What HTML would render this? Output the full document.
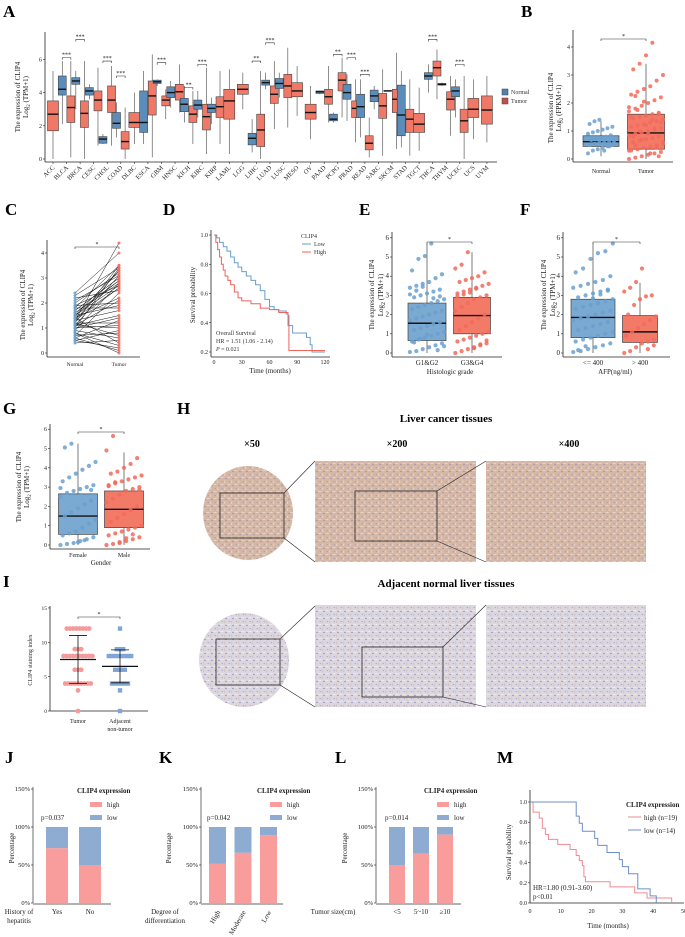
<!DOCTYPE html>
<html><head><meta charset="utf-8">
<style>
html,body{margin:0;padding:0;background:#fff;}
svg{display:block;font-family:"Liberation Serif",serif;}
.pl{font-weight:bold;font-size:17px;}
.tk{font-size:6px;fill:#333;}
.at{font-size:7px;fill:#222;}
</style></head>
<body>
<svg id="fig" width="685" height="937" viewBox="0 0 685 937" xmlns="http://www.w3.org/2000/svg">
<defs>
<pattern id="pc" width="7" height="7" patternUnits="userSpaceOnUse">
<rect width="7" height="7" fill="#d6b7a5"/>
<circle cx="2" cy="2.5" r="0.6" fill="#7d86b4"/><circle cx="5.2" cy="5.6" r="0.5" fill="#8a90bb"/>
<rect x="3.5" y="1" width="3" height="0.9" fill="#e8d8cc"/><rect x="0" y="4.5" width="1.2" height="2.5" fill="#e4d0c2"/>
</pattern>
<pattern id="pn" width="7" height="7" patternUnits="userSpaceOnUse">
<rect width="7" height="7" fill="#dcd6de"/>
<circle cx="2" cy="2.5" r="0.6" fill="#6d78b8"/><circle cx="5.2" cy="5.6" r="0.5" fill="#7c86bf"/>
<rect x="3.5" y="1" width="3" height="0.9" fill="#eeeaee"/><rect x="0" y="4.5" width="1.2" height="2.5" fill="#d4c4c4"/>
</pattern>
</defs>

<!-- panel labels -->
<text class="pl" x="3" y="17">A</text>
<text class="pl" x="521" y="17">B</text>
<text class="pl" x="5" y="215">C</text>
<text class="pl" x="163" y="215">D</text>
<text class="pl" x="359" y="215">E</text>
<text class="pl" x="520" y="215">F</text>
<text class="pl" x="3" y="414">G</text>
<text class="pl" x="177" y="414">H</text>
<text class="pl" x="3" y="587">I</text>
<text class="pl" x="5" y="763">J</text>
<text class="pl" x="159" y="763">K</text>
<text class="pl" x="335" y="763">L</text>
<text class="pl" x="497" y="763">M</text>

<!-- axis titles -->
<text class="at" transform="translate(20,97) rotate(-90)" text-anchor="middle">The expression  of CLIP4</text>
<text class="at" transform="translate(28,97) rotate(-90)" text-anchor="middle">Log<tspan font-size="5" dy="2">2</tspan><tspan dy="-2"> (TPM+1)</tspan></text>
<rect x="502" y="89" width="6" height="6" fill="#4f82ad" stroke="#444" stroke-width="0.5"/>
<text class="tk" x="511" y="94">Normal</text>
<rect x="502" y="98" width="6" height="6" fill="#c0504d" stroke="#444" stroke-width="0.5"/>
<text class="tk" x="511" y="103">Tumor</text>

<text class="at" transform="translate(553,108) rotate(-90)" text-anchor="middle">The expression  of CLIP4</text>
<text class="at" transform="translate(561,108) rotate(-90)" text-anchor="middle">Log<tspan font-size="5" dy="2">2</tspan><tspan dy="-2"> (FPKM+1)</tspan></text>

<text class="at" transform="translate(25,305) rotate(-90)" text-anchor="middle">The expression  of CLIP4</text>
<text class="at" transform="translate(33,305) rotate(-90)" text-anchor="middle">Log<tspan font-size="5" dy="2">2</tspan><tspan dy="-2"> (TPM+1)</tspan></text>

<text class="at" transform="translate(195,295) rotate(-90)" text-anchor="middle">Survival probability</text>
<text class="at" x="270" y="373" text-anchor="middle">Time (months)</text>
<text class="tk" x="301" y="238">CLIP4</text>
<line x1="302" y1="244" x2="311" y2="244" stroke="#6a9fcb" stroke-width="1"/>
<text class="tk" x="314" y="246">Low</text>
<line x1="302" y1="252" x2="311" y2="252" stroke="#f0625a" stroke-width="1"/>
<text class="tk" x="314" y="254">High</text>
<text class="tk" x="216" y="335">Overall Survival</text>
<text class="tk" x="216" y="343">HR = 1.51 (1.06 - 2.14)</text>
<text class="tk" x="216" y="351"><tspan font-style="italic">P</tspan> = 0.021</text>

<text class="at" font-size="8" transform="translate(374,295) rotate(-90)" text-anchor="middle">The expression  of CLIP4</text>
<text class="at" font-size="8" transform="translate(383,295) rotate(-90)" text-anchor="middle">Log<tspan font-size="6" dy="2">2</tspan><tspan dy="-2"> (TPM+1)</tspan></text>
<text class="at" font-size="8" x="450" y="374" text-anchor="middle">Histologic grade</text>

<text class="at" font-size="8" transform="translate(546,295) rotate(-90)" text-anchor="middle">The expression  of CLIP4</text>
<text class="at" font-size="8" transform="translate(555,295) rotate(-90)" text-anchor="middle">Log<tspan font-size="6" dy="2">2</tspan><tspan dy="-2"> (TPM+1)</tspan></text>
<text class="at" font-size="8" x="615" y="374" text-anchor="middle">AFP(ng/ml)</text>

<text class="at" transform="translate(21,487) rotate(-90)" text-anchor="middle">The expression  of CLIP4</text>
<text class="at" transform="translate(29,487) rotate(-90)" text-anchor="middle">Log<tspan font-size="5" dy="2">2</tspan><tspan dy="-2"> (TPM+1)</tspan></text>
<text class="at" x="101" y="565" text-anchor="middle">Gender</text>

<text class="tk" font-size="5" transform="translate(32,660) rotate(-90)" text-anchor="middle">CLIP4 staining index</text>

<!-- H histology -->
<text x="446" y="422" font-size="11" font-weight="bold" text-anchor="middle">Liver cancer tissues</text>
<text x="252" y="447" font-size="10" font-weight="bold" text-anchor="middle">×50</text>
<text x="397" y="447" font-size="10" font-weight="bold" text-anchor="middle">×200</text>
<text x="569" y="447" font-size="10" font-weight="bold" text-anchor="middle">×400</text>
<ellipse cx="248" cy="513" rx="45" ry="47" fill="url(#pc)"/>
<rect x="220" y="493" width="64" height="45" fill="none" stroke="#222" stroke-width="0.8"/>
<line x1="284" y1="493" x2="315" y2="461" stroke="#222" stroke-width="0.6"/>
<line x1="284" y1="538" x2="315" y2="562" stroke="#222" stroke-width="0.6"/>
<rect x="315" y="461" width="161" height="101" fill="url(#pc)"/>
<rect x="355" y="491" width="82" height="50" fill="none" stroke="#222" stroke-width="0.8"/>
<line x1="437" y1="491" x2="486" y2="461" stroke="#222" stroke-width="0.6"/>
<line x1="437" y1="541" x2="486" y2="562" stroke="#222" stroke-width="0.6"/>
<rect x="486" y="461" width="160" height="101" fill="url(#pc)"/>

<text x="446" y="587" font-size="11" font-weight="bold" text-anchor="middle">Adjacent normal liver tissues</text>
<ellipse cx="244" cy="660" rx="45" ry="47" fill="url(#pn)"/>
<rect x="216" y="639" width="64" height="46" fill="none" stroke="#222" stroke-width="0.8"/>
<line x1="280" y1="639" x2="315" y2="606" stroke="#222" stroke-width="0.6"/>
<line x1="280" y1="685" x2="315" y2="707" stroke="#222" stroke-width="0.6"/>
<rect x="315" y="605" width="161" height="102" fill="url(#pn)"/>
<rect x="362" y="647" width="81" height="50" fill="none" stroke="#222" stroke-width="0.8"/>
<line x1="443" y1="647" x2="486" y2="605" stroke="#222" stroke-width="0.6"/>
<line x1="443" y1="697" x2="486" y2="707" stroke="#222" stroke-width="0.6"/>
<rect x="486" y="605" width="160" height="102" fill="url(#pn)"/>

<!-- J K L text -->
<text class="at" transform="translate(14,848) rotate(-90)" text-anchor="middle">Percentage</text>
<text class="at" transform="translate(171,848) rotate(-90)" text-anchor="middle">Percentage</text>
<text class="at" transform="translate(347,848) rotate(-90)" text-anchor="middle">Percentage</text>
<text class="at" x="19" y="914" text-anchor="middle">History of</text>
<text class="at" x="19" y="923" text-anchor="middle">hepatitis</text>
<text class="at" x="165" y="914" text-anchor="middle">Degree of</text>
<text class="at" x="165" y="923" text-anchor="middle">differentiation</text>
<text class="at" x="333" y="914" text-anchor="middle">Tumor size(cm)</text>
<text class="at" x="41" y="820">p=0.037</text>
<text class="at" x="207" y="820">p=0.042</text>
<text class="at" x="385" y="820">p=0.014</text>

<text class="at" transform="translate(511,852) rotate(-90)" text-anchor="middle">Survival probability</text>
<text class="at" x="608" y="928" text-anchor="middle">Time (months)</text>
<text class="at" x="626" y="807" font-weight="bold">CLIP4 expression</text>
<line x1="628" y1="817" x2="641" y2="817" stroke="#f08a90"/>
<text class="at" x="644" y="820">high (n=19)</text>
<line x1="628" y1="830" x2="641" y2="830" stroke="#6d8fc8"/>
<text class="at" x="644" y="833">low (n=14)</text>
<text class="at" x="533" y="890">HR=1.80 (0.91-3.60)</text>
<text class="at" x="533" y="899">p&lt;0.01</text>

<g id="marks"></g>
</svg>
<script>
// ===== Panel A data =====
const aCats = ["ACC","BLCA","BRCA","CESC","CHOL","COAD","DLBC","ESCA","GBM","HNSC","KICH","KIRC","KIRP","LAML","LGG","LIHC","LUAD","LUSC","MESO","OV","PAAD","PCPG","PRAD","READ","SARC","SKCM","STAD","TGCT","THCA","THYM","UCEC","UCS","UVM"];
const aTMed = [2.7,3.1,2.75,3.55,3.55,1.05,2.2,3.8,3.55,4.05,2.7,2.55,3.15,3.5,4.2,1.75,3.9,4.4,4.1,2.8,3.75,4.75,3.05,0.95,3.2,3.6,2.4,2.1,5.5,3.6,2.3,3.0,2.95];
const aTQ1 = [1.7,2.2,1.9,2.9,2.8,0.6,1.9,2.65,3.2,3.55,2.2,1.75,2.5,2.4,3.9,0.75,3.35,3.7,3.75,2.4,3.3,4.1,2.5,0.55,2.45,2.8,1.6,1.6,5.0,2.95,1.6,2.5,2.1];
const aTQ3 = [3.5,3.8,3.5,4.1,4.4,1.65,2.8,4.7,3.8,4.5,3.2,3.3,3.75,4.2,4.5,2.7,4.4,5.1,4.6,3.3,4.2,5.2,3.5,1.4,3.95,4.2,3.0,2.75,5.9,4.05,3.0,3.65,3.8];
const aTLo = [0,0.1,0,0.8,0.8,0,0.9,0.1,2.4,2.8,0.9,0.3,0.9,0.3,3.0,0,1.8,1.9,2.6,1.2,2.2,2.5,1.0,0.1,0.2,0.6,0.2,0.5,3.6,1.4,0,1.2,1.0];
const aTHi = [5.3,5.9,5.9,5.5,5.6,3.1,4.0,6.3,4.2,5.7,4.1,5.5,5.3,5.4,5.2,5.3,5.9,6.7,5.6,4.4,5.6,6.1,4.8,2.5,5.4,6.4,4.8,4.3,6.6,5.0,5.0,4.8,5.0];
const aNMed = [null,4.2,4.7,4.1,1.2,2.15,null,2.2,4.65,4.0,3.3,3.25,3.05,null,null,1.25,4.6,4.55,null,null,4.05,2.4,4.0,3.15,3.8,4.1,2.65,null,5.0,4.5,4.1,null,null];
const aNQ1 = [null,3.85,4.5,3.85,0.95,1.85,null,1.6,4.55,3.7,2.85,3.0,2.8,null,null,0.85,4.45,4.25,null,null,3.95,2.3,3.6,2.5,3.45,4.1,1.4,null,4.8,4.45,3.75,null,null];
const aNQ3 = [null,5.0,4.9,4.3,1.35,2.8,null,4.1,4.75,4.35,3.65,3.55,3.3,null,null,1.55,4.75,4.85,null,null,4.1,2.7,4.5,3.9,4.15,4.12,4.45,null,5.2,4.55,4.35,null,null];
const aNLo = [null,2.1,3.0,3.6,0.9,1.3,null,0.9,4.4,3.1,2.2,2.5,2.1,null,null,0.4,4.2,3.7,null,null,3.9,2.2,2.3,1.3,3.0,4.1,0.7,null,4.0,4.4,2.5,null,null];
const aNHi = [null,5.9,5.3,4.5,1.5,3.4,null,5.3,4.8,4.7,4.4,4.1,3.7,null,null,2.4,5.2,5.2,null,null,4.1,2.8,5.1,4.8,4.4,4.15,5.3,null,5.7,4.6,4.8,null,null];
const aSig = ["","***","***","","***","***","","","***","","**","***","","","","**","***","","","","","**","***","***","","","","","***","","***","",""];
const aSigY = [0,6.1,7.2,0,5.9,5.0,0,0,5.8,0,4.3,5.7,0,0,0,5.9,7.0,0,0,0,0,6.3,6.1,5.1,0,0,0,0,7.2,0,5.7,0,0];
const aTicks = [0,2,4,6];

// ===== Panel B data =====
const bNormalPts = [0.2,0.3,0.35,0.4,0.45,0.5,0.5,0.55,0.6,0.6,0.62,0.65,0.7,0.7,0.75,0.8,0.85,0.9,0.95,1.0,1.05,1.1,1.15,1.25,1.35,1.4,0.3,0.45,0.55,0.68];
const bTumorPts = [0,0.05,0.1,0.15,0.2,0.25,0.3,0.35,0.4,0.45,0.5,0.55,0.6,0.65,0.7,0.75,0.8,0.85,0.9,0.95,1.0,1.05,1.1,1.15,1.2,1.25,1.3,1.35,1.4,1.45,1.5,1.55,1.6,1.65,1.7,1.8,1.9,2.0,2.1,2.2,2.3,2.4,2.5,2.6,2.8,3.0,3.2,3.4,3.7,4.15,0.1,0.3,0.5,0.7,0.9,1.1,1.3,1.5,1.75,2.05,0.2,0.4,0.6,0.8,1.0,1.2,1.4,1.6,1.85,2.25];
const bBoxN = [0.1,0.45,0.62,0.83,1.35];
const bBoxT = [0,0.35,0.93,1.6,3.4];
const bTicks = [0,1,2,3,4];

// ===== Panel C data =====
const cNormal = [1.3,0.9,1.5,2.4,1.1,0.5,1.8,1.4,0.7,2.1,1.2,1.6,0.4,1.0,1.9,1.3,0.8,1.5,2.0,1.1,0.6,1.7,1.4,1.2,0.9,2.2,1.0,1.3,1.6,0.5,1.8,1.1,1.4,0.7,1.5,1.2,2.3,1.0,1.3,0.8,1.7,1.5,1.1,0.6,1.9];
const cTumor = [4.4,2.8,3.3,4.0,1.5,0.2,3.5,2.6,0.8,3.1,1.2,2.9,0.5,3.4,2.0,1.7,0.3,2.7,3.2,1.0,0.1,3.0,2.2,3.5,0.6,2.5,1.4,3.3,2.8,0.9,1.8,3.1,0.4,2.4,2.9,0.7,3.4,1.1,2.6,0.0,3.0,1.9,2.1,1.3,2.7];
const cTicks = [0,1,2,3,4];

// ===== Panel D data =====
const dLowT = [0,3,6,10,14,18,22,26,30,35,40,45,50,55,60,65,70,78,80,85,90,100,104,106,120];
const dLowS = [1,0.98,0.95,0.92,0.89,0.85,0.81,0.78,0.75,0.72,0.69,0.66,0.62,0.56,0.51,0.49,0.48,0.46,0.38,0.33,0.33,0.30,0.25,0.20,0.20];
const dHighT = [0,2,4,6,8,10,12,15,18,22,26,30,40,50,60,70,80,81,120];
const dHighS = [1,0.95,0.9,0.85,0.8,0.76,0.72,0.69,0.66,0.61,0.57,0.55,0.53,0.5,0.49,0.47,0.45,0.21,0.21];
const dXTicks = [0,30,60,90,120];
const dYTicks = [0.2,0.4,0.6,0.8,1.0];

// ===== Panel E / F / G data =====
const eBoxA = [0,0.65,1.55,2.6,5.7];
const eBoxB = [0,1.0,1.95,2.9,5.25];
const ePtsA = [0.05,0.1,0.2,0.3,0.4,0.5,0.6,0.7,0.8,0.9,1.0,1.1,1.2,1.3,1.4,1.5,1.6,1.7,1.8,1.9,2.0,2.1,2.2,2.3,2.4,2.5,2.6,2.7,2.8,2.9,3.0,3.1,3.2,3.3,3.4,3.5,3.6,3.7,3.9,4.1,4.3,4.9,5.05,5.7,0.15,0.35,0.55,0.75,0.95,2.85,2.95,3.05,3.25,3.45];
const ePtsB = [0,0.1,0.2,0.3,0.4,0.5,0.6,0.7,0.8,0.9,1.0,1.1,1.2,1.4,1.6,1.8,2.0,2.2,2.4,2.6,2.8,2.9,3.0,3.1,3.2,3.3,3.4,3.5,3.6,3.7,3.8,3.9,4.0,4.2,4.4,4.6,5.25,0.25,0.45,0.65,2.95,3.05,3.15,3.35];
const fBoxA = [0,0.8,1.85,2.8,5.7];
const fBoxB = [0,0.55,1.1,1.95,3.65];
const fPtsA = [0.05,0.1,0.2,0.3,0.4,0.5,0.6,0.7,0.8,0.9,1.0,1.1,1.2,1.3,1.4,1.5,1.6,1.7,1.8,1.9,2.0,2.1,2.2,2.3,2.4,2.5,2.6,2.7,2.8,2.9,3.0,3.1,3.2,3.3,3.4,3.5,3.6,3.7,3.8,4.0,4.2,4.4,4.9,5.2,5.3,5.7,0.15,0.35,2.85,3.05,3.25];
const fPtsB = [0,0.1,0.3,0.5,0.6,0.7,0.9,1.1,1.3,1.5,1.7,1.9,2.0,2.5,2.8,2.95,3.0,3.2,3.4,3.7,4.4,0.2,0.4];
const gBoxA = [0,0.55,1.5,2.65,5.25];
const gBoxB = [0,0.9,1.85,2.8,4.8];
const gPtsA = [0,0.05,0.1,0.2,0.3,0.4,0.5,0.6,0.7,0.9,1.1,1.3,1.5,1.7,1.9,2.1,2.3,2.5,2.7,2.8,2.9,3.0,3.1,3.3,3.5,3.7,3.9,4.1,4.3,5.05,5.25,0.15,0.25,2.85,2.95];
const gPtsB = [0,0.05,0.1,0.2,0.3,0.4,0.5,0.6,0.7,0.8,0.9,1.0,1.2,1.4,1.6,1.8,2.0,2.2,2.4,2.6,2.8,2.9,3.0,3.1,3.2,3.3,3.4,3.5,3.6,3.7,3.8,4.0,4.2,4.5,4.9,5.65,0.15,0.35,0.55,2.85,3.05,3.25];
const efgTicks = [0,1,2,3,4,5,6];

// ===== Panel I data =====
const iVals = [12,9,8,6,4,3,0];
const iTumorN = [8,3,10,3,9,1,1];
const iAdjN = [1,3,8,4,6,1,1];
const iMeanSd = [[7.5,3.5],[6.5,2.4]];
const iTicks = [0,5,10,15];

// ===== Panels J K L data =====
const jCats = ["Yes","No"]; const jHigh = [72,50];
const kCats = ["High","Moderate","Low"]; const kHigh = [52,66,89];
const lCats = ["<5","5~10","≥10"]; const lHigh = [50,65,90];
const pctTicks = [0,50,100,150];

// ===== Panel M data =====
const mHighT = [0,1,3,4,5,6,9,13,15,16,17,17.5,18,26,34,38,46];
const mHighS = [1,0.9,0.84,0.74,0.68,0.63,0.58,0.53,0.47,0.42,0.37,0.26,0.21,0.16,0.1,0.05,0];
const mLowT = [0,15,16,17,21,22,25,29,30,32,35,39,41];
const mLowS = [1,0.86,0.79,0.71,0.64,0.57,0.5,0.43,0.36,0.29,0.14,0.07,0];
const mXTicks = [0,10,20,30,40,50];
const mYTicks = [0,0.2,0.4,0.6,0.8,1.0];

// ===== helpers =====
const NS = "http://www.w3.org/2000/svg";
const G = document.getElementById("marks");
function mk(tag, at) { const e = document.createElementNS(NS, tag); for (const k in at) e.setAttribute(k, at[k]); G.appendChild(e); return e; }
function txt(x, y, s, size, anchor, extra) { const e = mk("text", Object.assign({x:x, y:y, "font-size":size, "text-anchor":anchor||"middle", fill:"#222"}, extra||{})); e.textContent = s; return e; }

function axes(x0, y0, x1, y1, prefix) {
  const a = mk("line", {x1:x0, y1:y0, x2:x0, y2:y1, stroke:"#222", "stroke-width":0.8});
  
  
  const b = mk("line", {x1:x0, y1:y1, x2:x1, y2:y1, stroke:"#222", "stroke-width":0.8});
  
  
}
function yticks(ticks, x0, ymap, prefix, fmt, size) {
  ticks.forEach(v => {
    const l = mk("line", {x1:x0-2, x2:x0, y1:ymap(v), y2:ymap(v), stroke:"#222", "stroke-width":0.6});
    
    
    const t = txt(x0-3, ymap(v)+2, fmt ? fmt(v) : String(v), size||6, "end");
    
    
  });
}
function box(cx, w, s, ymap, fill, name, sw) {
  const wl = mk("line", {x1:cx, x2:cx, y1:ymap(s[0]), y2:ymap(s[4]), stroke:"#444", "stroke-width":sw||0.7});
  
  
  const r = mk("rect", {x:cx-w/2, y:ymap(s[3]), width:w, height:ymap(s[1])-ymap(s[3]), fill:fill, stroke:"#444", "stroke-width":sw||0.7});
  
  
  const m = mk("line", {x1:cx-w/2, x2:cx+w/2, y1:ymap(s[2]), y2:ymap(s[2]), stroke:"#111", "stroke-width":1.4});
  
  
}
function jitter(i, w) { return (((i * 37) % 17) / 16 - 0.5) * w; }
function pts(arr, cx, w, ymap, col, name, r) {
  arr.forEach((v, i) => {
    const c = mk("circle", {cx:cx + jitter(i, w), cy:ymap(v), r:r||2, fill:col, "fill-opacity":0.85});
    
    
  });
}
function bracket(xa, xb, y, label, name) {
  const p = mk("path", {d:`M${xa},${y+2}V${y}H${xb}V${y+2}`, fill:"none", stroke:"#333", "stroke-width":0.6});
  
  
  const t = txt((xa+xb)/2, y-1, label, 6);
  
  
}
function steps(T, S, xm, ym, col, name) {
  let d = `M${xm(T[0])},${ym(S[0])}`;
  for (let i = 1; i < T.length; i++) d += `H${xm(T[i])}V${ym(S[i])}`;
  const p = mk("path", {d:d, fill:"none", stroke:col, "stroke-width":1});
  
  
}

// ===== Panel A =====
{
  const ya = v => 159 - v * 16.6, xa = i => 53 + i * 13.56;
  axes(45, 32, 497, 162, "a");
  yticks(aTicks, 45, ya, "a");
  aCats.forEach((c, i) => {
    const x = xa(i);
    const tk = mk("line", {x1:x, x2:x, y1:162, y2:164, stroke:"#222", "stroke-width":0.6});
    
    
    const t = txt(x+2, 168, c, 6.5, "end", {transform:`rotate(-45 ${x+2} 168)`});
    
    
    const hasN = aNMed[i] !== null;
    if (hasN) box(x-4.3, 8, [aNLo[i], aNQ1[i], aNMed[i], aNQ3[i], aNHi[i]], ya, "#5b8dbb", "a-normal-" + c.toLowerCase(), 0.6);
    box(hasN ? x+4.3 : x, hasN ? 8 : 11, [aTLo[i], aTQ1[i], aTMed[i], aTQ3[i], aTHi[i]], ya, "#ef7866", "a-tumor-" + c.toLowerCase(), 0.6);
    if (aSig[i]) bracket(x-4.3, x+4.3, ya(aSigY[i]), aSig[i], "a-" + c.toLowerCase());
  });
}

// ===== Panel B =====
{
  const yb = v => 159 - v * 28;
  axes(573, 30, 673, 162, "b");
  yticks(bTicks, 573, yb, "b");
  box(601, 36, bBoxN, yb, "#6fa3cf", "b-normal");
  box(646, 37, bBoxT, yb, "#f47a68", "b-tumor");
  pts(bNormalPts, 601, 26, yb, "#6aa0cf", "b-normal-point");
  pts(bTumorPts, 646, 34, yb, "#f26a5c", "b-tumor-point");
  bracket(601, 646, 39, "*", "b");
  [["Normal",601],["Tumor",646]].forEach(([s,x]) => { const t = txt(x, 173, s, 6);   });
}

// ===== Panel C =====
{
  const yc = v => 353 - v * 25;
  axes(47, 240, 140, 357, "c");
  yticks(cTicks, 47, yc, "c");
  cNormal.forEach((v, i) => {
    const l = mk("line", {x1:75, y1:yc(v), x2:119, y2:yc(cTumor[i]), stroke:"#111", "stroke-width":0.5});
    
    
  });
  pts(cNormal, 75, 0, yc, "#6aa0cf", "c-normal-point", 1.5);
  pts(cTumor, 119, 0, yc, "#f26a5c", "c-tumor-point", 1.5);
  bracket(75, 119, 247, "*", "c");
  [["Normal",75],["Tumor",119]].forEach(([s,x]) => { const t = txt(x, 366, s, 5.5);   });
}

// ===== Panel D =====
{
  const xd = t => 214 + t / 120 * 111, yd = s => 235 + (1 - s) / 0.8 * 117;
  axes(211, 230, 330, 357, "d");
  yticks(dYTicks, 211, yd, "d", v => v.toFixed(1));
  dXTicks.forEach(t => { const e = txt(xd(t), 364, String(t), 6);   });
  steps(dLowT, dLowS, xd, yd, "#6a9fcb", "d-low-curve");
  steps(dHighT, dHighS, xd, yd, "#f0625a", "d-high-curve");
}

// ===== Panels E F G =====
function exprPanel(pre, ax, y0, unit, top, xEnd, cA, wA, cB, wB, boxA, boxB, ptsA, ptsB, labA, labB, bracketY, labY, size) {
  const ym = v => y0 - v * unit;
  axes(ax, top, xEnd, y0 + 4, pre);
  yticks(efgTicks, ax, ym, pre, null, size);
  box(cA, wA, boxA, ym, "#7aaad2", pre + "-group-a");
  box(cB, wB, boxB, ym, "#f47a68", pre + "-group-b");
  pts(ptsA, cA, wA*0.9, ym, "#6aa0cf", pre + "-group-a-point", 2.1);
  pts(ptsB, cB, wB*0.9, ym, "#f26a5c", pre + "-group-b-point", 2.1);
  bracket(cA, cB, bracketY, "*", pre);
  [[labA,cA],[labB,cB]].forEach(([s,x]) => { const t = txt(x, labY, s, size);   });
}
exprPanel("e", 392, 353, 19.2, 232, 502, 427, 38, 472, 37, eBoxA, eBoxB, ePtsA, ePtsB, "G1&G2", "G3&G4", 242, 365, 7);
exprPanel("f", 563, 353, 19.2, 232, 670, 593, 44, 640, 35, fBoxA, fBoxB, fPtsA, fPtsB, "<= 400", "> 400", 242, 365, 7);
exprPanel("g", 50, 545, 19.3, 424, 150, 78, 39, 124, 39, gBoxA, gBoxB, gPtsA, gPtsB, "Female", "Male", 432, 557, 6);

// ===== Panel I =====
{
  const yi = v => 711 - v * 6.87;
  axes(50, 606, 148, 711, "i");
  yticks(iTicks, 50, yi, "i", null, 5.5);
  [[iTumorN,78,"#f59a9a","tumor"],[iAdjN,120,"#7fa6d6","adjacent"]].forEach(([ns,cx,col,nm], g) => {
    iVals.forEach((v, k) => {
      for (let j = 0; j < ns[k]; j++) {
        const off = (j - (ns[k]-1)/2) * 3.2;
        const c = nm === "tumor" ? mk("circle", {cx:cx+off, cy:yi(v), r:2.4, fill:col}) : mk("rect", {x:cx+off-2.2, y:yi(v)-2.2, width:4.4, height:4.4, fill:col});
        
        
      }
    });
    const [m, sd] = iMeanSd[g];
    const ml = mk("line", {x1:cx-18, x2:cx+18, y1:yi(m), y2:yi(m), stroke:"#111", "stroke-width":1.2});
    
    
    const sl = mk("path", {d:`M${cx},${yi(m-sd)}V${yi(m+sd)}M${cx-9},${yi(m-sd)}H${cx+9}M${cx-9},${yi(m+sd)}H${cx+9}`, stroke:"#111", "stroke-width":0.8, fill:"none"});
    
    
  });
  bracket(78, 120, 617, "*", "i");
  const t1 = txt(78, 723, "Tumor", 6);  
  const t2 = txt(120, 723, "Adjacent", 6);  
  const t3 = txt(120, 731, "non-tumor", 6);  
}

// ===== Panels J K L =====
function stacked(pre, ax, xEnd, cats, high, x0, step, bw, legX, rotate) {
  const yp = p => 903 - p * 0.76;
  const yl = mk("line", {x1:ax, x2:ax, y1:787, y2:903, stroke:"#333", "stroke-width":0.7});
  
  
  const xl = mk("line", {x1:ax, x2:xEnd, y1:904, y2:904, stroke:"#999", "stroke-width":1.6});
  
  
  yticks(pctTicks, ax, yp, pre, v => v + "%", 6.5);
  cats.forEach((c, i) => {
    const x = x0 + i * step;
    const lo = mk("rect", {x:x, y:yp(100), width:bw, height:yp(high[i]) - yp(100), fill:"#8eabd2"});
    
    
    const hi = mk("rect", {x:x, y:yp(high[i]), width:bw, height:yp(0) - yp(high[i]), fill:"#f99c9c"});
    
    
    const t = rotate ? txt(x+bw/2+3, 912, c, 7, "end", {transform:`rotate(-60 ${x+bw/2+3} 912)`}) : txt(x+bw/2, 914, c, 7);
    
    
  });
  const lt = txt(legX, 793, "CLIP4 expression", 7, "start", {"font-weight":"bold"});
  
  
  [["high","#f99c9c",805],["low","#8eabd2",818]].forEach(([s,col,y]) => {
    const r = mk("rect", {x:legX+13, y:y-3, width:12, height:5, fill:col});
    
    
    const t = txt(legX+30, y+2, s, 7, "start");
    
    
  });
}
stacked("j", 33, 111, jCats, jHigh, 46, 33, 22, 77, false);
stacked("k", 201, 283, kCats, kHigh, 209, 25.5, 17, 257, true);
stacked("l", 376, 461, lCats, lHigh, 389, 24, 16, 424, false);

// ===== Panel M =====
{
  const xm = t => 530 + t * 3.08, ym = s => 903 - s * 101;
  axes(530, 790, 684, 903, "m");
  yticks(mYTicks, 530, ym, "m", v => v.toFixed(1), 6);
  mXTicks.forEach(t => { const e = txt(xm(t), 913, String(t), 6);   });
  steps(mHighT, mHighS, xm, ym, "#f08a90", "m-high-curve");
  steps(mLowT, mLowS, xm, ym, "#6d8fc8", "m-low-curve");
}
</script>
</body></html>
